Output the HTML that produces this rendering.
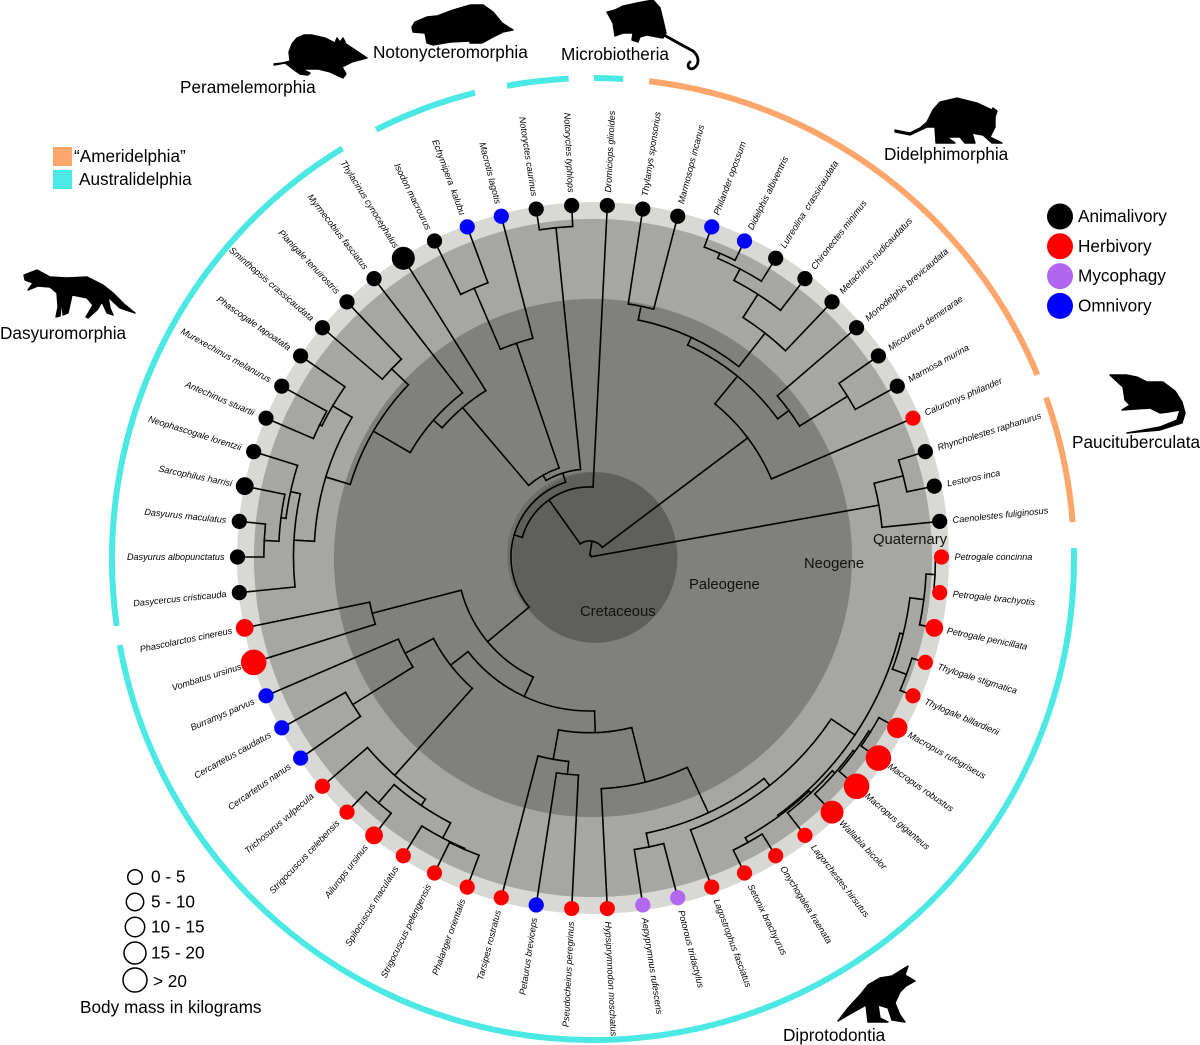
<!DOCTYPE html>
<html lang="en">
<head>
<meta charset="utf-8">
<title>Marsupial phylogeny with diet and body mass</title>
<style>
html,body{margin:0;padding:0;background:#fff}
svg{display:block;font-family:"Liberation Sans",Arial,sans-serif}
.t17{font-size:17.2px;fill:#000}
.era{font-size:14.8px;fill:#111}
.sp{font-size:9.1px;font-style:italic;fill:#000;dominant-baseline:central}
</style>
</head>
<body>
<svg id="chart" xmlns="http://www.w3.org/2000/svg" width="1200" height="1045" viewBox="0 0 1200 1045">
  <g id="discs"></g>
  <g id="groupArcs"></g>
  <g id="eraLabels"></g>
  <g id="branches" fill="none" stroke="#000" stroke-width="1.6" stroke-linecap="square"></g>
  <g id="tips"></g>
  <g id="labels"></g>

  <g fill="#000" stroke="#000" stroke-width="1.4" stroke-linejoin="round">
    <path d="M274 64L282 63L290 61L289 52L292 44L297 38L304 35L312 35L325 38L335 43L337 38L340 42L343 38L346 44L355 50L367 58L352 62L342 67L346 74L343 78L330 72L318 69L305 69L298 67L310 73L308 75L300 74L293 69L285 63L274 65Z"/>
    <path d="M412 27L415 22L427 17L437 16L453 10L470 5L483 5L493 12L502 23L513 30L503 32L493 37L482 43L470 43L470 41L450 42L433 45L427 43L425 33L413 32Z"/>
    <path d="M607 12L615 10L623 6L637 3L653 0L660 8L663 20L666 33L663 38L647 35L640 37L638 42L632 40L633 33L623 33L615 36L613 23Z"/>
    <path fill="none" stroke-width="2.8" stroke-linecap="round" d="M664 35L680 44L693 51C699 56 700 64 694 68C689 71 686 65 690 62"/>
    <path d="M895 130L910 133L920 128L927 122L933 110L940 102L957 98L977 103L992 110L993 108L997 111L995 117L995 127L990 137L1002 143L992 143L983 135L972 133L975 143L965 143L960 137L947 137L955 143L936 143L935 127L927 127L910 135L895 132Z"/>
    <path d="M1110 375L1127 375L1137 377L1147 382L1163 382L1175 391L1182 402L1185 413L1182 423L1160 430L1127 433L1160 427L1177 420L1180 410L1168 412L1160 413L1150 408L1122 410L1130 405L1125 400L1123 387Z"/>
    <path d="M24 275L37 270L50 277L67 278L87 277L103 285L113 293L124 304L135 313L120 308L108 297L110 308L113 315L107 313L102 302L97 310L88 318L86 317L93 305L87 298L72 295L68 313L63 315L62 300L60 316L56 317L58 307L57 293L50 287L38 286L28 290L33 283L25 280Z"/>
    <path d="M908 966L905 975L915 981L906 986L900 992L895 1003L900 1015L905 1022L892 1020L888 1008L878 1005L880 1018L888 1022L868 1022L866 1005L850 1014L838 1021L848 1008L860 995L868 985L880 978L892 976L900 971Z"/>
  </g>

  <g class="t17">
    <text x="180" y="93" class="t17">Peramelemorphia</text>
    <text x="373" y="58" class="t17">Notonycteromorphia</text>
    <text x="561" y="60" class="t17">Microbiotheria</text>
    <text x="884" y="160" class="t17">Didelphimorphia</text>
    <text x="1072" y="448" class="t17">Paucituberculata</text>
    <text x="0" y="339" class="t17">Dasyuromorphia</text>
    <text x="783" y="1041" class="t17">Diprotodontia</text>
  </g>

  <g>
    <rect x="53" y="147" width="19" height="19" fill="#fda66b"/>
    <text x="74" y="162" class="t17">“Ameridelphia”</text>
    <rect x="53" y="170" width="19" height="19" fill="#4ce8e4"/>
    <text x="79" y="185" class="t17">Australidelphia</text>
  </g>
  <g id="dietLegend"></g>
  <g id="massLegend">
    <text x="80" y="1013" class="t17">Body mass in kilograms</text>
  </g>
</svg>

<script>
/* ---------- data ---------- */
const tipNames = [
"Petrogale concinna","Petrogale brachyotis","Petrogale penicillata","Thylogale stigmatica","Thylogale billardierii",
"Macropus rufogriseus","Macropus robustus","Macropus giganteus","Wallabia bicolor","Lagorchestes hirsutus",
"Onychogalea fraenata","Setonix brachyurus","Lagostrophus fasciatus","Potorous tridactylus","Aepyprymnus rufescens",
"Hypsiprymnodon moschatus","Pseudocheirus peregrinus","Petaurus breviceps","Tarsipes rostratus","Phalanger orientalis",
"Strigocuscus pelengensis","Spilocuscus maculatus","Ailurops ursinus","Strigocuscus celebensis","Trichosurus vulpecula",
"Cercartetus nanus","Cercartetus caudatus","Burramys parvus","Vombatus ursinus","Phascolarctos cinereus",
"Dasycercus cristicauda","Dasyurus albopunctatus","Dasyurus maculatus","Sarcophilus harrisi","Neophascogale lorentzii",
"Antechinus stuartii","Murexechinus melanurus","Phascogale tapoatafa","Sminthopsis crassicaudata","Planigale tenuirostris",
"Myrmecobius fasciatus","Thylacinus cynocephalus","Isodon macrourus","Echymipera  kalubu","Macrotis lagotis",
"Notoryctes caurinus","Notoryctes typhlops","Dromiciops gliroides","Thylamys sponsorius","Marmosops incanus",
"Philander opossum","Didelphis albiventris","Lutreolina  crassicaudata","Chironectes minimus","Metachirus nudicaudatus",
"Monodelphis brevicaudata","Micoureus demerarae","Marmosa murina","Caluromys philander","Rhyncholestes raphanurus",
"Lestoros inca","Caenolestes fuliginosus"];

/* diet per tip: H herbivory, M mycophagy, O omnivory, A animalivory */
const tipDiets = "HHHHHHHHHHHHHMMHHOHHHHHHHOOOHHAAAAAAAAAAAAAOOAAAAAOOAAAAAAHAAA".split("");

/* body-mass class per tip, index into massLabels */
const tipMassClasses = [
0,0,1,0,0,2,4,4,3,0,0,0,0,0,0,0,0,0,0,0,0,0,1,0,0,0,0,0,4,1,
0,0,0,1,0,0,0,0,0,0,0,3,0,0,0,0,0,0,0,0,0,0,0,0,0,0,0,0,0,0,0,0];

/* internal nodes: child tips are 1-based numbers, child clades are names */
const cladeNames = ["root","crown","paucituberculata","caenolestinae","didelphimorphia","didelphidae","didelphinae","thylamyini","didelphini4","didelphini3","didelphini2","didelphini1","marmosini","micoureus-marmosa","australidelphia","eometatheria","agreodontia","notoryctidae","dasy-perameles","peramelemorphia","perameloids","dasyuromorphia","dasyuro-myrm","dasyuridae","sminthopsini","dasyurinae","phascogalini","murex-antechinus","dasyurini","dasyurini2","dasyurini3","dasyurus","diprotodontia","vombatiformes","phalangerida","phalangeroid-burramyoid","burramyidae","cercartetus","phalangeroidea","phalangeridae","ailurops-strigocuscus","phalangerinae","phalanger-strigocuscus","macropodiform-petauroid","petauroidea","pseudo-petaurus","macropodoidea","macro-poto","potoroinae","macropodidae","macropodinae","dendrolagini","petrogale","petrogale12","thylogale","macropus-group","setonix-onychogalea","lagorchestes-group","wallabia-group","macropus-giganteus-group","macropus-rufo-robustus"];

const cladeAges = [86.63,83.17,14.36,6.93,38.12,29.33,27.23,23.76,16.71,9.90,6.68,5.32,25.87,11.88,69.80,67.70,65.35,5.20,63.86,31.19,14.73,38.61,35.77,25.25,19.55,18.94,13.37,12.75,13.86,11.39,10.15,6.51,54.33,31.56,49.01,43.56,35.64,18.07,14.70,12.87,6.93,8.66,8.42,43.64,36.26,33.07,29.70,17.33,13.86,15.10,8.04,7.18,3.71,1.49,3.47,7.67,6.31,7.05,6.19,5.69,5.20];

const cladeKids = [["crown","paucituberculata"],["australidelphia","didelphimorphia"],["caenolestinae",62],[60,61],[59,"didelphidae"],["didelphinae","marmosini"],["thylamyini","didelphini4"],[49,50],["didelphini3",55],["didelphini2",54],["didelphini1",53],[51,52],[56,"micoureus-marmosa"],[57,58],["eometatheria",48],["diprotodontia","agreodontia"],["dasy-perameles","notoryctidae"],[46,47],["dasyuromorphia","peramelemorphia"],["perameloids",45],[43,44],["dasyuro-myrm",42],["dasyuridae",41],["dasyurinae","sminthopsini"],[39,40],["dasyurini","phascogalini"],["murex-antechinus",38],[36,37],[31,"dasyurini2"],["dasyurini3",35],["dasyurus",34],[32,33],["phalangerida","vombatiformes"],[29,30],["macropodiform-petauroid","phalangeroid-burramyoid"],["phalangeroidea","burramyidae"],["cercartetus",28],[26,27],["phalangeridae",25],["phalangerinae","ailurops-strigocuscus"],[23,24],["phalanger-strigocuscus",22],[20,21],["macropodoidea","petauroidea"],["pseudo-petaurus",19],[17,18],["macro-poto",16],["macropodidae","potoroinae"],[14,15],["macropodinae",13],["dendrolagini","macropus-group"],["petrogale","thylogale"],["petrogale12",3],[1,2],[4,5],["lagorchestes-group","setonix-onychogalea"],[11,12],["wallabia-group",10],["macropus-giganteus-group",9],["macropus-rufo-robustus",8],[6,7]];

/* geologic disc outer boundaries in Myr before present */
const eraFillAges = [-0.5,3.2,23];
const eraFills = ["#d8d9d4","#a6a7a2","#80817c"];
const cretaceousAge = 66;
const eraLabelNames = ["Cretaceous","Paleogene","Neogene","Quaternary"];

/* clade arcs outside the tree, clockwise degrees from north */
const groupNames = ["diprotodontia","dasyuromorphia","peramelemorphia","notoryctemorphia","microbiotheria","didelphimorphia","paucituberculata"];
const groupStarts = [88.7,262,333.2,349.7,0.1,6.7,70.4];
const groupEnds = [259.7,328.6,345.8,357.1,3.6,67.5,85.6];
const groupFamilies = ["aus","aus","aus","aus","aus","ame","ame"];

const dietNames = ["Animalivory","Herbivory","Mycophagy","Omnivory"];
const dietKeys = ["A","H","M","O"];
const massLabels = ["0 - 5","5 - 10","10 - 15","15 - 20","> 20"];

/* ---------- scales ---------- */
const SVGNS = "http://www.w3.org/2000/svg";
const treeCx = 589.5, treeCy = 557, tipRadius = 352, pxPerMyr = 4.04;
const firstTipDeg = 90;
const discCx = 593, discCy = 558;
const dietColor = {A:"#000000",H:"#ff0000",M:"#b366f0",O:"#0000ff"};
const familyColor = {aus:"#4ce8e4",ame:"#fda66b"};

function ageToRadius(age){return tipRadius - pxPerMyr*age;}
function tipAngle(i){return firstTipDeg + i*360/tipNames.length;}
function polar(deg,r){const a=deg*Math.PI/180;return [treeCx+r*Math.sin(a),treeCy-r*Math.cos(a)];}
function polarAt(cx,cy,deg,r){const a=deg*Math.PI/180;return [cx+r*Math.sin(a),cy-r*Math.cos(a)];}
function massRadius(c){return 7.6+c*1.3;}
function slug(s){return s.toLowerCase().replace(/[^a-z0-9]+/g,"-");}
function make(tag,parent){const e=document.createElementNS(SVGNS,tag);parent.appendChild(e);return e;}

/* ---------- discs ---------- */
const discG = document.getElementById("discs");
eraFillAges.forEach(function(age,i){
  const c = make("circle",discG);
  
  
  const r = ageToRadius(age)+ (i===0?2:0);
  c.setAttribute("cx", discCx);
  c.setAttribute("cy", discCy);
  c.setAttribute("r", r);
  c.setAttribute("fill", eraFills[i]);
});
const cretaceousRim = make("circle",discG);


cretaceousRim.setAttribute("cx",discCx-3);
cretaceousRim.setAttribute("cy",discCy-3);
cretaceousRim.setAttribute("r",ageToRadius(cretaceousAge)-2.4);
cretaceousRim.setAttribute("fill","#6e6e6a");
const cretaceousCore = make("ellipse",discG);


cretaceousCore.setAttribute("cx",discCx+2);
cretaceousCore.setAttribute("cy",discCy-0.5);
cretaceousCore.setAttribute("rx",ageToRadius(cretaceousAge)-2.9);
cretaceousCore.setAttribute("ry",ageToRadius(cretaceousAge));
cretaceousCore.setAttribute("fill","#5f5f5c");

/* ---------- era labels ---------- */
const eraG = document.getElementById("eraLabels");
const eraLabelX = [580,689,804,873];
const eraLabelY = [616,589,568,544];
eraLabelNames.forEach(function(name,i){
  const t = make("text",eraG);
  
  
  t.setAttribute("class","era");
  t.setAttribute("x",eraLabelX[i]);
  t.setAttribute("y",eraLabelY[i]);
  t.textContent = name;
});

/* ---------- outer clade arcs ---------- */
const arcG = document.getElementById("groupArcs");
groupNames.forEach(function(name,i){
  const p = make("path",arcG);
  
  
  const a0 = polarAt(discCx,559,groupStarts[i],481);
  const a1 = polarAt(discCx,559,groupEnds[i],481);
  const large = (groupEnds[i]-groupStarts[i])>180?1:0;
  p.setAttribute("d","M"+a0[0]+" "+a0[1]+"A481 481 0 "+large+" 1 "+a1[0]+" "+a1[1]);
  p.setAttribute("fill","none");
  p.setAttribute("stroke",familyColor[groupFamilies[i]]);
  p.setAttribute("stroke-width","6");
});

/* ---------- tree ---------- */
const branchG = document.getElementById("branches");
const cladeIndex = {};
cladeNames.forEach(function(n,i){cladeIndex[n]=i;});
const memo = {};
function nodeAngle(ref){
  if(typeof ref==="number") return tipAngle(ref-1);
  if(memo[ref]!==undefined) return memo[ref];
  const kids = cladeKids[cladeIndex[ref]];
  const a = kids.map(nodeAngle);
  memo[ref] = (Math.min.apply(null,a)+Math.max.apply(null,a))/2;
  return memo[ref];
}
function nodeRadius(ref){
  return typeof ref==="number" ? tipRadius : ageToRadius(cladeAges[cladeIndex[ref]]);
}
cladeNames.forEach(function(name,i){
  const r = nodeRadius(name);
  const angles = cladeKids[i].map(nodeAngle);
  const lo = Math.min.apply(null,angles), hi = Math.max.apply(null,angles);
  const p0 = polar(lo,r), p1 = polar(hi,r);
  const arc = make("path",branchG);
  
  
  arc.setAttribute("d","M"+p0[0]+" "+p0[1]+"A"+r+" "+r+" 0 "+((hi-lo)>180?1:0)+" 1 "+p1[0]+" "+p1[1]);
  cladeKids[i].forEach(function(kid){
    const a = nodeAngle(kid);
    const s = polar(a,r), e = polar(a,nodeRadius(kid));
    const edge = make("line",branchG);
    
    
    edge.setAttribute("x1",s[0]);
    edge.setAttribute("y1",s[1]);
    edge.setAttribute("x2",e[0]);
    edge.setAttribute("y2",e[1]);
  });
});

/* ---------- tips ---------- */
const tipG = document.getElementById("tips");
const labelG = document.getElementById("labels");
tipNames.forEach(function(name,i){
  const a = tipAngle(i);
  const p = polar(a,tipRadius);
  const c = make("circle",tipG);
  
  
  c.setAttribute("cx",p[0]);
  c.setAttribute("cy",p[1]);
  c.setAttribute("r",massRadius(tipMassClasses[i]));
  c.setAttribute("fill",dietColor[tipDiets[i]]);

  const norm = ((a%360)+360)%360;
  const right = norm<180;
  const q = polar(a,365);
  const t = make("text",labelG);
  
  
  t.setAttribute("class","sp");
  t.setAttribute("xml:space","preserve");
  t.setAttribute("style","white-space:pre");
  t.setAttribute("x",q[0]);
  t.setAttribute("y",q[1]);
  t.setAttribute("text-anchor",right?"start":"end");
  t.setAttribute("transform","rotate("+(right?norm-90:norm+90)+" "+q[0]+" "+q[1]+")");
  t.textContent = name;
});

/* ---------- legends ---------- */
const dietG = document.getElementById("dietLegend");
dietNames.forEach(function(name,i){
  const c = make("circle",dietG);
  
  
  c.setAttribute("cx",1060);
  c.setAttribute("cy",216.5+i*29.8);
  c.setAttribute("r",13);
  c.setAttribute("fill",dietColor[dietKeys[i]]);
  const t = make("text",dietG);
  
  
  t.setAttribute("class","t17");
  t.setAttribute("x",1078);
  t.setAttribute("y",222+i*29.8);
  t.textContent = name;
});
const massG = document.getElementById("massLegend");
const massLegendY = [877,902,927,953,980];
const massLegendR = [7.3,8.7,9.7,11,12];
massLabels.forEach(function(label,i){
  const c = make("circle",massG);
  
  
  c.setAttribute("cx",135);
  c.setAttribute("cy",massLegendY[i]);
  c.setAttribute("r",massLegendR[i]);
  c.setAttribute("fill","#fff");
  c.setAttribute("stroke","#000");
  c.setAttribute("stroke-width","1.5");
  const t = make("text",massG);
  
  
  t.setAttribute("class","t17");
  t.setAttribute("x",i===4?153:151);
  t.setAttribute("y",massLegendY[i]+(i===4?7:5.5));
  t.textContent = label;
});
</script>
</body>
</html>
